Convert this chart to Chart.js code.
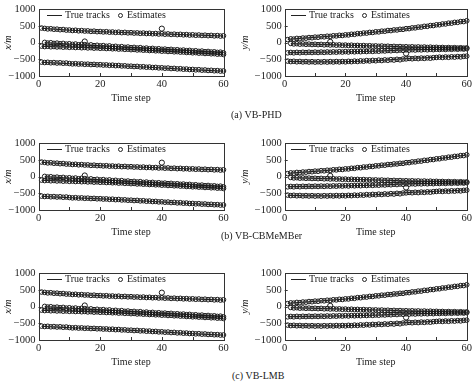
<!DOCTYPE html>
<html lang="en">
<head>
<meta charset="UTF-8">
<title>VB tracking results</title>
<script src="https://cdn.jsdelivr.net/npm/chart.js"></script>
<style>
  body { margin: 0; background: #fff; }
  #fig { position: relative; width: 474px; height: 382px; overflow: hidden; font-family: "Liberation Serif", serif; color: #222; }
  .panel { position: absolute; }
  .legend { position: absolute; font-size: 10px; white-space: nowrap; display: flex; align-items: center; line-height: 10px; }
  .legend .ln { display: inline-block; width: 15px; border-top: 1px solid #222; margin-right: 3px; }
  .legend .pt { display: inline-block; width: 3px; height: 3px; border: 1px solid #222; border-radius: 50%; margin: 0 4px 0 8px; }
  .cap { position: absolute; font-size: 10px; white-space: nowrap; }
</style>
</head>
<body>
<div id="fig"></div>

<script>
// method names (one row each)
const methods = ['(a) VB-PHD', '(b) VB-CBMeMBer', '(c) VB-LMB'];
const steps = Array.from({length: 60}, (_, i) => i + 1);

// true tracks, read at a few time steps
const trackT = [1, 10, 20, 30, 40, 50, 60];
const trackT2 = [2, 10, 20, 30, 40, 50, 60];
const xTrue1 = [430, 375, 330, 295, 262, 230, 200];
const xTrue2 = [0, -41, -93, -145, -197, -248, -300];
const xTrue3 = [-110, -135, -165, -205, -250, -300, -350];
const xTrue4 = [-590, -630, -665, -710, -760, -810, -855];
const yTrue1 = [100, 160, 228, 320, 414, 530, 650];
const yTrue2 = [-30, -50, -75, -100, -125, -145, -160];
const yTrue3 = [-300, -290, -275, -255, -220, -200, -185];
const yTrue4 = [-560, -575, -570, -540, -480, -440, -400];

// estimates, one per time step (null = target not yet born)
const xEst1 = [438, 427, 412, 418, 401, 405, 388, 394, 377, 379,
               364, 372, 355, 362, 348, 353, 337, 345, 329, 334,
               321, 329, 313, 320, 306, 315, 299, 308, 293, 300,
               286, 293, 279, 288, 273, 281, 266, 274, 259, 268,
               253, 262, 246, 255, 240, 249, 234, 242, 227, 236,
               221, 230, 215, 224, 209, 218, 203, 212, 197, 206];
const xEst2 = [null, 8, -12, -3, -24, -14, -33, -22, -44, -33,
               -52, -41, -63, -50, -60, -80, -66, -90, -79, -99,
               -88, -109, -97, -121, -110, -131, -119, -141, -131, -152,
               -142, -161, -150, -173, -162, -183, -172, -192, -182, -200,
               -193, -209, -201, -220, -212, -230, -222, -240, -232, -251,
               -243, -262, -253, -272, -264, -281, -275, -292, -285, -304];
const xEst3 = [-104, -118, -109, -124, -116, -129, -121, -136, -127, -141,
               -132, -146, -137, -152, -144, -158, -150, -165, -156, -170,
               -163, -176, -170, -184, -178, -193, -186, -201, -195, -210,
               -204, -219, -212, -227, -221, -237, -230, -245, -240, -256,
               -249, -265, -259, -275, -269, -284, -280, -294, -290, -305,
               -299, -314, -309, -325, -318, -334, -329, -345, -339, -355];
const xEst4 = [-584, -596, -589, -604, -597, -611, -603, -618, -611, -626,
               -637, -630, -643, -636, -650, -644, -657, -651, -664, -660,
               -672, -667, -681, -675, -690, -684, -699, -694, -708, -705,
               -717, -711, -727, -721, -737, -731, -747, -742, -757, -753,
               -767, -761, -777, -771, -787, -781, -797, -791, -806, -803,
               -816, -810, -825, -819, -834, -829, -843, -838, -852, -849];
const yEst1 = [92, 114, 106, 127, 120, 139, 134, 153, 147, 166,
               161, 180, 174, 193, 188, 207, 202, 221, 215, 234,
               231, 252, 249, 271, 268, 289, 286, 308, 305, 326,
               323, 345, 342, 364, 361, 382, 380, 401, 399, 420,
               420, 443, 443, 466, 466, 490, 489, 513, 512, 536,
               536, 560, 560, 584, 584, 608, 608, 632, 632, 656];
const yEst2 = [null, -24, -38, -31, -45, -37, -50, -43, -56, -48,
               -60, -52, -66, -57, -70, -62, -75, -67, -80, -72,
               -85, -76, -90, -82, -95, -87, -100, -92, -105, -97,
               -110, -101, -115, -107, -120, -112, -125, -117, -130, -122,
               -133, -124, -137, -128, -140, -131, -144, -135, -147, -140,
               -152, -144, -156, -147, -158, -150, -161, -153, -164, -157];
const yEst3 = [-306, -294, -305, -291, -302, -288, -298, -286, -296, -284,
               -295, -282, -292, -279, -289, -276, -286, -272, -282, -269,
               -280, -266, -275, -262, -271, -257, -266, -252, -262, -249,
               -257, -242, -250, -235, -243, -228, -237, -221, -230, -214,
               -224, -211, -221, -207, -217, -203, -214, -200, -210, -196,
               -206, -193, -203, -189, -200, -186, -197, -183, -193, -180];
const yEst4 = [-553, -568, -559, -574, -564, -578, -567, -581, -570, -583,
               -572, -584, -570, -582, -568, -580, -566, -578, -565, -576,
               -560, -570, -553, -564, -546, -557, -538, -550, -532, -543,
               -524, -536, -517, -529, -509, -522, -500, -514, -491, -486,
               -473, -483, -468, -478, -462, -472, -456, -466, -450, -444,
               -434, -444, -430, -440, -424, -434, -418, -427, -411, -405];
// stray estimates
const clutterT = [15, 40];
const clutterX = [35, 420];
const clutterY = [25, -325];

const xTicks = [0, 20, 40, 60];
const xMarks = [10, 20, 30, 40, 50];
const yTicks = [-1000, -500, 0, 500, 1000];
const yMarks = [-500, 0, 500];

const ink = '#222';

// box round the plot plus small inward ticks
const boxTicks = {
  id: 'boxTicks',
  afterDraw(chart) {
    const {ctx, chartArea: a, scales} = chart;
    ctx.save();
    ctx.strokeStyle = '#333';
    ctx.lineWidth = 1;
    ctx.strokeRect(Math.round(a.left) + 0.5, Math.round(a.top) + 0.5,
                   Math.round(a.right - a.left), Math.round(a.bottom - a.top));
    ctx.beginPath();
    xMarks.forEach(v => {
      const px = Math.round(scales.x.getPixelForValue(v)) + 0.5;
      ctx.moveTo(px, a.bottom); ctx.lineTo(px, a.bottom - 3);
    });
    yMarks.forEach(v => {
      const py = Math.round(scales.y.getPixelForValue(v)) + 0.5;
      ctx.moveTo(a.left, py); ctx.lineTo(a.left + 3, py);
    });
    ctx.stroke();
    ctx.restore();
  }
};

function pts(ts, vals) {
  return ts.map((t, i) => ({x: t, y: vals[i]})).filter(p => p.y !== null);
}

function makePanel(row, col) {
  const fig = document.getElementById('fig');
  const rowTop = [0, 134, 264][row];
  const left = col === 0 ? 0 : 237;
  const yw = col === 0 ? 38.5 : 47.7;
  const padR = col === 0 ? 13.5 : 5.5;

  const div = document.createElement('div');
  div.className = 'panel';
  div.style.left = left + 'px';
  div.style.top = rowTop + 'px';
  const cv = document.createElement('canvas');
  cv.width = 237; cv.height = 104;
  div.appendChild(cv);
  fig.appendChild(div);

  const trues = col === 0 ? [xTrue1, xTrue2, xTrue3, xTrue4] : [yTrue1, yTrue2, yTrue3, yTrue4];
  const ests = col === 0 ? [xEst1, xEst2, xEst3, xEst4] : [yEst1, yEst2, yEst3, yEst4];
  const clutter = col === 0 ? clutterX : clutterY;

  const datasets = [];
  trues.forEach((tr, i) => datasets.push({
    type: 'line', data: pts(i === 1 ? trackT2 : trackT, tr),
    borderColor: ink, borderWidth: 1, pointRadius: 0, tension: 0.3, order: 2
  }));
  ests.forEach(es => datasets.push({
    type: 'scatter', data: pts(steps, es), clip: false,
    pointStyle: 'circle', pointRadius: 2.3, borderWidth: 1,
    pointBorderColor: '#1a1a1a', pointBackgroundColor: 'rgba(255,255,255,0)', order: 1
  }));
  datasets.push({
    type: 'scatter', data: pts(clutterT, clutter), clip: false,
    pointRadius: 2.6, borderWidth: 1,
    pointBorderColor: '#1a1a1a', pointBackgroundColor: 'rgba(255,255,255,0)'
  });

  const tickFont = {family: 'Liberation Serif', size: 10.5};
  new Chart(cv, {
    data: {datasets},
    options: {
      responsive: false,
      animation: false,
      layout: {padding: {left: 0, right: padR, top: 5, bottom: 0}},
      plugins: {legend: {display: false}, tooltip: {enabled: false}},
      scales: {
        x: {
          type: 'linear', min: 0, max: 60,
          grid: {display: false, drawTicks: false},
          border: {display: false},
          afterBuildTicks: s => { s.ticks = xTicks.map(v => ({value: v})); },
          afterFit: s => { s.height = 28; },
          ticks: {font: tickFont, color: ink, padding: 2, maxRotation: 0},
          title: {display: true, text: 'Time step', font: {family: 'Liberation Serif', size: 10},
                  color: ink, padding: {top: 1, bottom: 0}}
        },
        y: {
          type: 'linear', min: -1000, max: 1000,
          grid: {display: false, drawTicks: false},
          border: {display: false},
          afterBuildTicks: s => { s.ticks = yTicks.map(v => ({value: v})); },
          afterFit: s => { s.width = yw; },
          ticks: {font: tickFont, color: ink, padding: 3,
                  callback: v => String(v).replace('-', '\u2212')},
          title: {display: true, text: col === 0 ? 'x/m' : 'y/m',
                  font: {family: 'Liberation Serif', size: 10, style: 'italic'},
                  color: ink, padding: {top: 2, bottom: 0}}
        }
      }
    },
    plugins: [boxTicks]
  });

  // legend inside the plot
  const lg = document.createElement('div');
  lg.className = 'legend';
  lg.style.left = (col === 0 ? 47 : 291) + 'px';
  lg.style.top = (rowTop + 10) + 'px';
  lg.innerHTML = '<span class="ln"></span>True tracks<span class="pt"></span>Estimates';
  fig.appendChild(lg);
}

[0, 1, 2].forEach(r => { makePanel(r, 0); makePanel(r, 1); });

const capPos = [[231, 109], [221, 230], [232, 370]];
methods.forEach((m, i) => {
  const c = document.createElement('div');
  c.className = 'cap';
  c.style.left = capPos[i][0] + 'px';
  c.style.top = capPos[i][1] + 'px';
  c.textContent = m;
  document.getElementById('fig').appendChild(c);
});
</script>
</body>
</html>
